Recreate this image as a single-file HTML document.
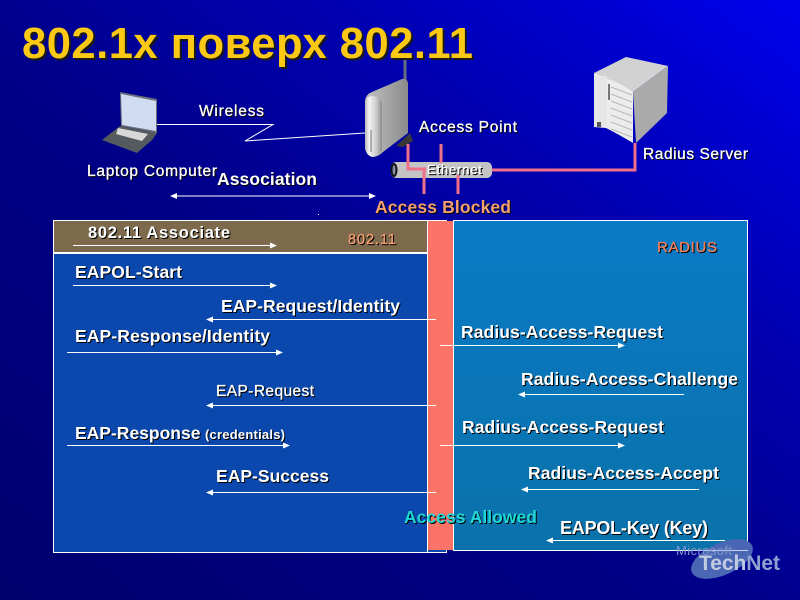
<!DOCTYPE html>
<html><head><meta charset="utf-8"><style>
html,body{margin:0;padding:0;background:#00007a;overflow:hidden}
svg{display:block}
text{font-family:"Liberation Sans","DejaVu Sans",sans-serif;font-weight:bold;fill:#fff;filter:drop-shadow(1px 1px 0 #000)}
.n{font-weight:normal;stroke:#fff;stroke-width:.3px}
</style></head><body>
<svg width="800" height="600" viewBox="0 0 800 600" xmlns="http://www.w3.org/2000/svg">
<defs>
<linearGradient id="bg" x1="1" y1="0" x2="0" y2="1"><stop offset="0" stop-color="#0000ec"/><stop offset=".28" stop-color="#0000b4"/><stop offset=".55" stop-color="#000088"/><stop offset="1" stop-color="#00006e"/></linearGradient>
<linearGradient id="rp" x1="0" y1="0" x2="0" y2="1"><stop offset="0" stop-color="#0a7ac6"/><stop offset="1" stop-color="#0a72aa"/></linearGradient>
<linearGradient id="ap" x1="0" y1="0" x2="1" y2="0"><stop offset="0" stop-color="#b8b8b8"/><stop offset=".25" stop-color="#f4f4f4"/><stop offset=".7" stop-color="#c8c8c8"/><stop offset="1" stop-color="#8c8c8c"/></linearGradient>
<linearGradient id="aps" x1="0" y1="0" x2="1" y2="0"><stop offset="0" stop-color="#c4c4c4"/><stop offset="1" stop-color="#8a8a8a"/></linearGradient>
<marker id="a" markerWidth="7" markerHeight="6" refX="6" refY="3" orient="auto-start-reverse" markerUnits="userSpaceOnUse"><path d="M0 0L7 3L0 6Z" fill="#fff"/></marker>
</defs>
<rect width="800" height="600" fill="url(#bg)"/>

<text x="22" y="58" font-size="43.500" textLength="451" style="fill:#fbc814;filter:drop-shadow(2px 2px 0 #1a1a1a)">802.1x поверх 802.11</text>

<!-- laptop -->
<polygon points="102,140 120,126 157,133 152,140 137,153" fill="#555a5e"/>
<polygon points="120,92 157,99 157,133 121,126" fill="#6c7078"/>
<polygon points="121,94 156,101 156,131 122,125" fill="#cfdcf2"/>
<polygon points="118,128 148,134 142,141 116,134" fill="#d8d8d8"/>

<text x="199" y="116" font-size="15.500" textLength="65" class="n">Wireless</text>
<polyline points="157,124.500 273,124.500 245,141 365,133" fill="none" stroke="#fff" stroke-width="1"/>
<text x="87" y="176" font-size="15.500" textLength="130" class="n">Laptop Computer</text>
<text x="217" y="185" font-size="17.500" textLength="100">Association</text>
<line x1="171" y1="196" x2="375" y2="196" stroke="#fff" marker-start="url(#a)" marker-end="url(#a)"/>
<rect x="318" y="214" width="1" height="1" fill="#fff"/>

<!-- access point -->
<rect x="403.500" y="60" width="3" height="22" fill="#666c80"/>
<polygon points="396,146 410,133 413,141 403,147" fill="#383838"/>
<path d="M372 92L402 79Q408 78 408 84V133L383 152Q378 157 372 157Q366 155 365 148V101Q366 94 372 92Z" fill="url(#aps)"/>
<path d="M365 148V103Q366 96 373 96Q381 97 382 104V150Q378 157 372 157Q366 155 365 148Z" fill="url(#ap)"/>
<line x1="371" y1="130" x2="371" y2="152" stroke="#777"/>

<text x="419" y="132" font-size="15.500" textLength="98" class="n">Access Point</text>

<!-- server -->
<polygon points="594,73 626,57 668,66 633,92" fill="#d2d2d2"/>
<polygon points="633,92 668,66 667,113 636,143" fill="#aaaaaa"/>
<path d="M594,73 L608,79 Q622,84 633,92 V143 Q618,134 606,128 L594,127Z" fill="#ececec"/>
<rect x="594" y="76" width="13" height="51" fill="#e6e6e6"/>
<rect x="608" y="84" width="2" height="16" fill="#777"/>
<rect x="597" y="122" width="4" height="5" fill="#555"/>
<g stroke="#b8b8b8" stroke-width="1"><line x1="611" y1="87" x2="632" y2="95"/><line x1="611" y1="94" x2="632" y2="102"/><line x1="611" y1="101" x2="632" y2="109"/><line x1="611" y1="108" x2="632" y2="116"/><line x1="611" y1="115" x2="632" y2="123"/><line x1="611" y1="122" x2="632" y2="130"/><line x1="611" y1="129" x2="632" y2="137"/></g>
<text x="643" y="159" font-size="15.500" textLength="105" class="n">Radius Server</text>

<!-- ethernet -->
<rect x="391" y="162" width="101" height="16" rx="5" fill="#c4c4c4"/>
<ellipse cx="394" cy="170" rx="3.500" ry="7" fill="#111"/>
<ellipse cx="394" cy="170" rx="1.500" ry="5" fill="#8890a8"/>
<g stroke="#f0708a" stroke-width="3" fill="none">
<polyline points="408,144 408,169 426,169"/>
<line x1="441" y1="144" x2="441" y2="163"/>
<line x1="424" y1="169" x2="424" y2="194"/>
<line x1="458" y1="175" x2="458" y2="194"/>
<polyline points="492,170 635,170 635,143"/>
</g>
<text x="427" y="174" font-size="13" textLength="55" class="n">Ethernet</text>
<text x="375" y="213" font-size="17.500" textLength="136" style="fill:#f4a070">Access Blocked</text>

<!-- panels -->
<rect x="53.500" y="220.500" width="393" height="332" fill="#0a48ae" stroke="#fff"/>
<rect x="54" y="221" width="373" height="31" fill="#7d6a4c"/>
<rect x="54" y="252" width="373" height="2" fill="#fff"/>
<rect x="453.500" y="220.500" width="294" height="330" fill="url(#rp)" stroke="#fff"/>
<rect x="428" y="221" width="25" height="329" fill="#fc7468"/>
<line x1="427.500" y1="220" x2="427.500" y2="552" stroke="#fff"/>
<line x1="453.500" y1="220" x2="453.500" y2="551" stroke="#fff"/>

<!-- technet logo -->
<ellipse cx="722" cy="559" rx="33" ry="16" fill="#4a66b4" transform="rotate(-24 722 559)"/>
<line x1="690" y1="550.500" x2="748" y2="550.500" stroke="#c8d4ee"/>
<text x="676" y="555" font-size="13" textLength="56" class="n" style="fill:#7f98cc;stroke:none;filter:none">Microsoft</text>
<text x="699" y="570" font-size="21" textLength="81" style="fill:#8ea2d0;filter:none"><tspan fill="#c0cbe2">Tech</tspan>Net</text>

<!-- labels -->
<text x="88" y="238" font-size="16.500" textLength="142">802.11 Associate</text>
<text x="348" y="244" font-size="14.500" textLength="48" class="n" style="fill:#f4a070;stroke:#f4a070">802.11</text>
<text x="657" y="252" font-size="15" textLength="60" class="n" style="fill:#f08060;stroke:#f08060">RADIUS</text>

<text x="75" y="278" font-size="17.500" textLength="107">EAPOL-Start</text>
<text x="221" y="312" font-size="17.500" textLength="179">EAP-Request/Identity</text>
<text x="75" y="342" font-size="17.500" textLength="195">EAP-Response/Identity</text>
<text x="216" y="396" font-size="15.500" textLength="98" class="n">EAP-Request</text>
<text x="75" y="439" font-size="17.500">EAP-Response</text>
<text x="205" y="439" font-size="13" textLength="80">(credentials)</text>
<text x="216" y="482" font-size="17.500" textLength="113">EAP-Success</text>
<text x="461" y="338" font-size="17.500" textLength="202">Radius-Access-Request</text>
<text x="521" y="385" font-size="17.500" textLength="217">Radius-Access-Challenge</text>
<text x="462" y="433" font-size="17.500" textLength="202">Radius-Access-Request</text>
<text x="528" y="479" font-size="17.500" textLength="191">Radius-Access-Accept</text>
<text x="560" y="534" font-size="18" textLength="148">EAPOL-Key (Key)</text>
<text x="404" y="523" font-size="17.500" textLength="133" style="fill:#20d8d8">Access Allowed</text>

<g stroke="#fff" stroke-width="1" fill="none">
<line x1="73" y1="245.500" x2="276" y2="245.500" marker-end="url(#a)"/>
<line x1="73" y1="285.500" x2="276" y2="285.500" marker-end="url(#a)"/>
<line x1="436" y1="319.500" x2="207" y2="319.500" marker-end="url(#a)"/>
<line x1="67" y1="352.500" x2="282" y2="352.500" marker-end="url(#a)"/>
<line x1="436" y1="405.500" x2="207" y2="405.500" marker-end="url(#a)"/>
<line x1="67" y1="445.500" x2="289" y2="445.500" marker-end="url(#a)"/>
<line x1="436" y1="492.500" x2="207" y2="492.500" marker-end="url(#a)"/>
<line x1="440" y1="345.500" x2="624" y2="345.500" marker-end="url(#a)"/>
<line x1="684" y1="394.500" x2="519" y2="394.500" marker-end="url(#a)"/>
<line x1="440" y1="445.500" x2="624" y2="445.500" marker-end="url(#a)"/>
<line x1="699" y1="489.500" x2="522" y2="489.500" marker-end="url(#a)"/>
<line x1="725" y1="540.500" x2="547" y2="540.500" marker-end="url(#a)"/>
</g>
</svg>
</body></html>
